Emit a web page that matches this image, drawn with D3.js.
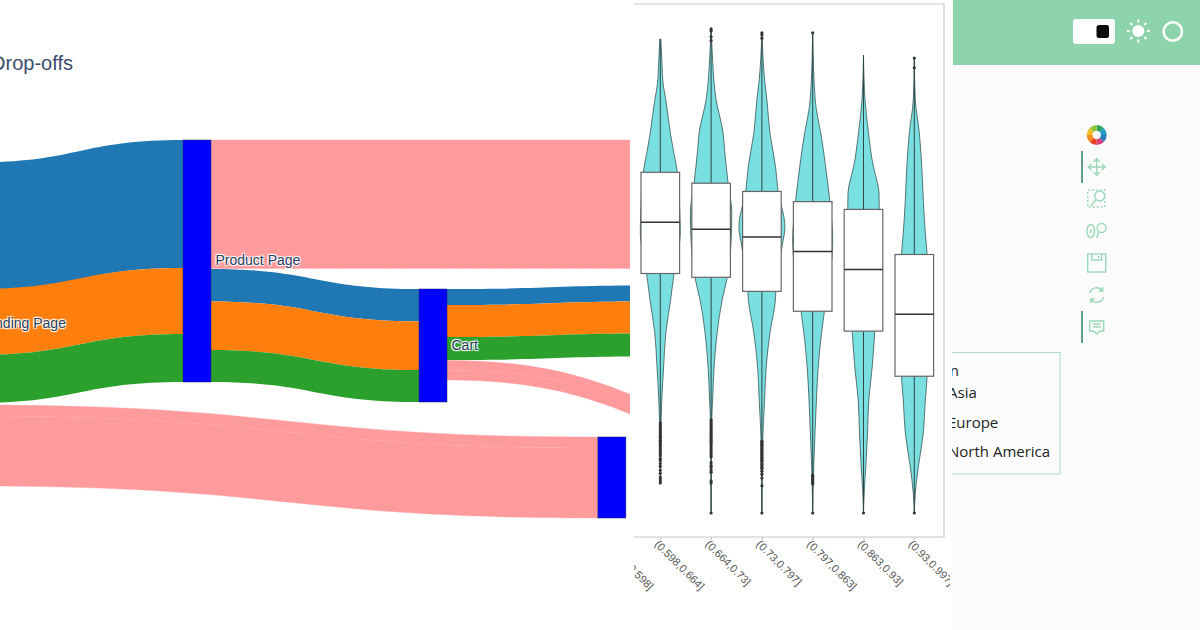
<!DOCTYPE html>
<html>
<head>
<meta charset="utf-8">
<script src="https://cdn.jsdelivr.net/npm/d3@7"></script>
<style>
    html, body { margin: 0; padding: 0; background: #fff; }
    svg { display: block; }
    .node-label {
        font: 14px "Liberation Sans", Arial, sans-serif;
        fill: #2a3f5f;
        text-shadow: 1px 1px 1px #fff, -1px -1px 1px #fff, 1px -1px 1px #fff, -1px 1px 1px #fff;
    }
    .sankey-title { font: 20px "Liberation Sans", Arial, sans-serif; fill: #3a4d6d; }
    .violin-axis text { font: 11px "Liberation Sans", Arial, sans-serif; fill: #555; }
    .violin-axis line, .violin-axis path { stroke: #bdbdbd; }
    .legend-text { font: 15px "Open Sans", sans-serif; fill: #222; }
</style>
</head>
<body>
<div id="chart"></div>
<script>
// sankey: stage is the column, positions and widths are in users
const stageNames = ["Landing Page", "Product Page", "Cart"];
const nodeNames = ["Landing Page", "Product Page", "Cart", "Checkout", "Drop-off", "Exit"];
const nodeStages = [0, 1, 2, 3, 2.758, 3.87];
const nodeTops = [110, 0, 745, 727, 1485, 1540];
const nodeSizes = [1615, 1210, 565, 355, 405, 98];

const linkSources = [0, 0, 0, 0, 0, 1, 1, 1, 1, 2, 2, 2, 2, 2];
const linkTargets = [1, 1, 1, 4, 4, 5, 2, 2, 2, 3, 3, 3, 5, 5];
const linkStartTops = [112, 745, 1075, 1325, 1380, 0, 645, 807, 1050, 745, 825, 985, 1102, 1151];
const linkEndTops = [0, 640, 970, 1485, 1540, 0, 745, 907, 1150, 727, 807, 967, 1540, 1589];
const linkValues = [640, 330, 240, 55, 350, 642, 162, 243, 160, 80, 160, 115, 49, 49];
const linkKinds = ["a", "b", "c", "drop", "drop", "drop", "a", "b", "c", "a", "b", "c", "drop", "drop"];

// violins
const binLabels = ["(0.532,0.598]", "(0.598,0.664]", "(0.664,0.73]", "(0.73,0.797]", "(0.797,0.863]", "(0.863,0.93]", "(0.93,0.997]"];
const violinBins = binLabels.slice(1);
const q3s = [0.7025, 0.680, 0.663, 0.642, 0.626, 0.533];
const medians = [0.5994, 0.585, 0.569, 0.539, 0.502, 0.410];
const q1s = [0.4938, 0.486, 0.457, 0.416, 0.375, 0.282];
const whiskerTops = [0.977, 0.998, 0.990, 0.990, 0.944, 0.938];
const whiskerBottoms = [0.060, 0, 0, 0, 0, 0];

// [value, density]
const densities = [
    [[0.977, 0.1], [0.934, 0.3], [0.882, 0.6], [0.852, 1.1], [0.784, 2.0], [0.748, 2.6], [0.703, 3.4], [0.62, 3.9], [0.58, 4.0], [0.54, 3.6], [0.493, 2.74], [0.439, 2.06], [0.371, 1.1], [0.301, 0.66], [0.233, 0.3], [0.186, 0.14], [0.060, 0]],
    [[0.998, 0], [0.934, 0.3], [0.887, 0.6], [0.852, 1.0], [0.784, 2.4], [0.748, 2.7], [0.680, 3.4], [0.619, 4.14], [0.56, 4.0], [0.487, 3.26], [0.439, 2.2], [0.371, 1.2], [0.301, 0.6], [0.233, 0.3], [0.196, 0.14], [0, 0]],
    [[0.990, 0], [0.887, 0.6], [0.852, 1.0], [0.784, 1.6], [0.713, 2.74], [0.666, 3.2], [0.590, 4.6], [0.548, 4.0], [0.458, 2.8], [0.439, 2.7], [0.371, 1.6], [0.301, 0.86], [0.233, 0.54], [0.148, 0.16], [0, 0]],
    [[0.990, 0], [0.852, 0.5], [0.816, 1.0], [0.784, 1.6], [0.713, 2.6], [0.645, 3.4], [0.563, 4.0], [0.50, 3.6], [0.416, 2.34], [0.371, 1.76], [0.301, 1.1], [0.233, 0.74], [0.165, 0.46], [0.095, 0.2], [0, 0]],
    [[0.944, 0], [0.852, 0.3], [0.784, 1.0], [0.713, 2.0], [0.680, 2.8], [0.660, 3.1], [0.631, 3.14], [0.50, 3.0], [0.375, 2.26], [0.301, 1.74], [0.233, 1.06], [0.165, 0.8], [0.095, 0.46], [0.054, 0.2], [0, 0]],
    [[0.938, 0], [0.852, 0.2], [0.784, 1.0], [0.713, 1.5], [0.645, 1.8], [0.577, 2.2], [0.534, 2.54], [0.40, 2.7], [0.282, 2.56], [0.233, 2.2], [0.165, 1.8], [0.095, 0.8], [0.041, 0.2], [0, 0]]
];

const fliers = [
    [0.186, 0.182, 0.178, 0.174, 0.170, 0.166, 0.162, 0.158, 0.154, 0.150, 0.146, 0.142, 0.138, 0.134, 0.130, 0.126, 0.122, 0.118, 0.112, 0.108, 0.102, 0.096, 0.088, 0.082, 0.074, 0.070, 0.066, 0.062],
    [0.998, 0.994, 0.982, 0.974, 0.192, 0.188, 0.184, 0.180, 0.176, 0.172, 0.168, 0.164, 0.160, 0.156, 0.152, 0.148, 0.144, 0.140, 0.136, 0.132, 0.128, 0.124, 0.120, 0.116, 0.104, 0.098, 0.094, 0.088, 0.084, 0.066, 0.062, 0],
    [0.990, 0.986, 0.979, 0.148, 0.145, 0.142, 0.139, 0.136, 0.133, 0.130, 0.127, 0.124, 0.121, 0.118, 0.115, 0.112, 0.109, 0.106, 0.103, 0.100, 0.097, 0.094, 0.091, 0.086, 0.080, 0.072, 0.056, 0],
    [0.990, 0.078, 0.075, 0.072, 0.069, 0.066, 0.063, 0.060, 0],
    [0],
    [0.938, 0.918, 0]
];

const legendItems = ["Asia", "Europe", "North America"];
const toolNames = ["logo", "pan", "boxZoom", "wheelZoom", "save", "reset", "hover"];
const activeTools = ["pan", "hover"];
const logoColors = ["#2ca25f", "#1f9fc4", "#2b7bba", "#d9407a", "#e8412c", "#f58a1f", "#f2c02c", "#8cc63f"];

const W = 1200, H = 630;
const svg = d3.select("#chart").append("svg").attr("width", W).attr("height", H);
const defs = svg.append("defs");

function clip(id, x, y, w, h) {
    defs.append("clipPath").attr("id", id).append("rect")
        .attr("x", x).attr("y", y).attr("width", w).attr("height", h);
    return svg.append("g").attr("clip-path", `url(#${id})`);
}

function drawSankey() {
    const g = clip("clip-sankey", 0, 0, 630, H);
    const colors = { a: "#1f77b4", b: "#ff7f0e", c: "#2ca02c", drop: "#ff9a9d" };
    const nodeW = 28;
    const x = d3.scaleLinear().domain([0, 1]).range([-53, 183]);
    const y = d3.scaleLinear().domain([0, 1900]).range([140, 520]);
    const thick = v => y(v) - y(0);

    g.append("text")
        .attr("class", "sankey-title")
        .attr("x", 73)
        .attr("y", 70)
        .attr("text-anchor", "end")
        .text("Drop-offs");

    const links = linkValues.map((v, i) => ({
        x0: x(nodeStages[linkSources[i]]) + nodeW,
        x1: x(nodeStages[linkTargets[i]]),
        y0: y(linkStartTops[i]),
        y1: y(linkEndTops[i]),
        h: thick(v),
        kind: linkKinds[i]
    }));

    g.selectAll("path.link")
        .data(links)
        .enter()
        .append("path")
        .attr("class", "link")
        .attr("fill", d => colors[d.kind])
        .attr("stroke", d => d.kind === "drop" ? "#ffa5a8" : "none")
        .attr("stroke-width", 0.4)
        .attr("d", d => {
            const mid = (d.x0 + d.x1) / 2;
            const p = d3.path();
            p.moveTo(d.x0, d.y0);
            p.bezierCurveTo(mid, d.y0, mid, d.y1, d.x1, d.y1);
            p.lineTo(d.x1, d.y1 + d.h);
            p.bezierCurveTo(mid, d.y1 + d.h, mid, d.y0 + d.h, d.x0, d.y0 + d.h);
            p.closePath();
            return p.toString();
        });

    const nodes = nodeNames.map((name, i) => ({
        name,
        x: x(nodeStages[i]),
        y: y(nodeTops[i]),
        h: thick(nodeSizes[i])
    }));

    g.selectAll("rect.node")
        .data(nodes)
        .enter()
        .append("rect")
        .attr("class", "node")
        .attr("x", d => d.x)
        .attr("y", d => d.y)
        .attr("width", nodeW)
        .attr("height", d => d.h)
        .attr("fill", "#0000ff")
        .attr("stroke", "#222266")
        .attr("stroke-width", 0.5);

    g.selectAll("text.node-label")
        .data(nodes.filter(d => stageNames.includes(d.name)))
        .enter()
        .append("text")
        .attr("class", "node-label")
        .attr("x", d => d.x + nodeW + 4.5)
        .attr("y", d => d.y + d.h / 2 + 4)
        .text(d => d.name);
}

function drawViolins() {
    const g = clip("clip-violin", 634, 0, 316, H);
    const x = d3.scalePoint().domain(binLabels).range([609.5, 914.3]);
    const y = d3.scaleLinear().domain([0, 1]).range([513, 28]);
    const w = d3.scaleLinear().domain([0, 5]).range([0, 25]);
    const boxHalf = 19.3;

    g.append("path")
        .attr("d", "M634,4H944V537H634")
        .attr("fill", "none")
        .attr("stroke", "#c8c8c8")
        .attr("stroke-width", 1.2);

    const axis = g.append("g")
        .attr("class", "violin-axis")
        .attr("transform", "translate(0,537)")
        .call(d3.axisBottom(x).tickSize(3).tickPadding(4));
    axis.select(".domain").remove();
    axis.selectAll("text")
        .attr("text-anchor", "start")
        .attr("dx", "-4")
        .attr("dy", "0.5em")
        .attr("transform", "translate(2,-1) rotate(45) translate(4,0)");

    const area = d3.area()
        .y(d => y(d[0]))
        .curve(d3.curveMonotoneY);

    violinBins.forEach((bin, i) => {
        const cx = x(bin);
        const row = g.append("g").attr("class", "violin");

        row.append("path")
            .attr("d", area.x0(d => cx - w(d[1])).x1(d => cx + w(d[1]))(densities[i]))
            .attr("fill", "#7adfe0")
            .attr("stroke", "#3e5f60")
            .attr("stroke-opacity", 0.85)
            .attr("stroke-width", 1);

        row.append("line")
            .attr("x1", cx).attr("x2", cx)
            .attr("y1", y(whiskerTops[i])).attr("y2", y(whiskerBottoms[i]))
            .attr("stroke", "#2f4445")
            .attr("stroke-width", 1);

        row.selectAll("circle")
            .data(fliers[i])
            .enter()
            .append("circle")
            .attr("cx", cx)
            .attr("cy", d => y(d))
            .attr("r", 1.6)
            .attr("fill", "#333");

        row.append("rect")
            .attr("x", cx - boxHalf)
            .attr("y", y(q3s[i]))
            .attr("width", boxHalf * 2)
            .attr("height", y(q1s[i]) - y(q3s[i]))
            .attr("fill", "#fff")
            .attr("stroke", "#666")
            .attr("stroke-width", 1.2);

        row.append("line")
            .attr("x1", cx - boxHalf).attr("x2", cx + boxHalf)
            .attr("y1", y(medians[i])).attr("y2", y(medians[i]))
            .attr("stroke", "#333")
            .attr("stroke-width", 1.5);
    });
}

// the toolbar glyphs, each drawn around 0,0
const toolIcons = {
    logo(g) {
        const pie = d3.pie().value(1).sort(null)(logoColors);
        const arc = d3.arc().innerRadius(4.2).outerRadius(10);
        g.selectAll("path").data(pie).enter().append("path")
            .attr("d", arc)
            .attr("fill", d => d.data);
    },
    pan(g) {
        g.append("path").attr("d", "M-8,0H8M0,-8V8M-5,-3L-8.5,0L-5,3M5,-3L8.5,0L5,3M-3,-5L0,-8.5L3,-5M-3,5L0,8.5L3,5");
    },
    boxZoom(g) {
        g.append("rect").attr("x", -9).attr("y", -9).attr("width", 17).attr("height", 17).attr("stroke-dasharray", "2 2");
        g.append("circle").attr("cx", 3).attr("cy", -3).attr("r", 5);
        g.append("path").attr("d", "M-1,1L-6,7");
    },
    wheelZoom(g) {
        g.append("ellipse").attr("cx", -6).attr("cy", 0).attr("rx", 3.8).attr("ry", 6.5);
        g.append("circle").attr("cx", 5).attr("cy", -3).attr("r", 4.5);
        g.append("path").attr("d", "M2,1L0,7M-6,-2V2");
    },
    save(g) {
        g.append("rect").attr("x", -9).attr("y", -9).attr("width", 18).attr("height", 18);
        g.append("path").attr("d", "M-5,-9V-3H5V-9M2,-7V-5");
    },
    reset(g) {
        g.append("path").attr("d", "M-7,-2A7.5,7.5 0 0 1 6,-4.5M7,2A7.5,7.5 0 0 1 -6,4.5M6,-8V-4H2M-6,8V4H-2");
    },
    hover(g) {
        g.append("path").attr("d", "M-7,-6H7V4H3L0,7L-3,4H-7Z");
        g.append("path").attr("d", "M-4,-3H4M-4,0H4");
    }
};

function drawAppPanel() {
    const g = clip("clip-app", 952, 0, 248, H);
    const accent = "#8dd3ac";

    g.append("rect").attr("x", 953).attr("y", 0).attr("width", 247).attr("height", H).attr("fill", "#fbfbfc");
    g.append("rect").attr("x", 953).attr("y", 0).attr("width", 247).attr("height", 65).attr("fill", accent);

    g.append("rect").attr("x", 1073).attr("y", 19).attr("width", 42).attr("height", 25).attr("rx", 3).attr("fill", "#fff");
    g.append("rect").attr("x", 1096.5).attr("y", 25).attr("width", 12.5).attr("height", 13).attr("rx", 2.5).attr("fill", "#0a0a0a");

    const sun = g.append("g").attr("transform", "translate(1138.3,31)");
    sun.append("circle").attr("r", 6).attr("fill", "#fff");
    sun.selectAll("line")
        .data(d3.range(8))
        .enter()
        .append("line")
        .attr("x1", 8.5).attr("x2", 11.5)
        .attr("transform", d => `rotate(${d * 45})`)
        .attr("stroke", "#fff")
        .attr("stroke-width", 2);

    g.append("circle").attr("cx", 1172.8).attr("cy", 31.5).attr("r", 9.2)
        .attr("fill", "none").attr("stroke", "#fff").attr("stroke-width", 2.6);

    const toolY = d3.scalePoint().domain(toolNames).range([135, 327]);
    const tool = g.selectAll("g.tool")
        .data(toolNames)
        .enter()
        .append("g")
        .attr("class", "tool")
        .attr("transform", d => `translate(1096.7,${toolY(d)})`)
        .attr("fill", "none")
        .attr("stroke", "#9ad8b8")
        .attr("stroke-width", 1.4);
    tool.each(function(d) {
        toolIcons[d](d3.select(this));
    });
    tool.filter(d => d === "logo").attr("stroke", "none");

    g.selectAll("rect.active")
        .data(activeTools)
        .enter()
        .append("rect")
        .attr("class", "active")
        .attr("x", 1081)
        .attr("y", d => toolY(d) - 16)
        .attr("width", 2)
        .attr("height", 32)
        .attr("fill", "#5f9f86");

    // legend sits under the violin panel, so its left side is cut
    g.append("rect").attr("x", 930).attr("y", 352.5).attr("width", 130).attr("height", 121.5)
        .attr("fill", "#fcfcfc").attr("stroke", "#a9dcc3").attr("stroke-width", 1);
    g.append("text").attr("class", "legend-text").attr("x", 959).attr("y", 376)
        .attr("text-anchor", "end").text("Region");

    const legendY = d3.scalePoint().domain(legendItems).range([398, 457]);
    g.selectAll("text.legend-item")
        .data(legendItems)
        .enter()
        .append("text")
        .attr("class", "legend-text legend-item")
        .attr("x", 948)
        .attr("y", d => legendY(d))
        .text(d => d);
}

drawSankey();
drawViolins();
drawAppPanel();
</script>
</body>
</html>
